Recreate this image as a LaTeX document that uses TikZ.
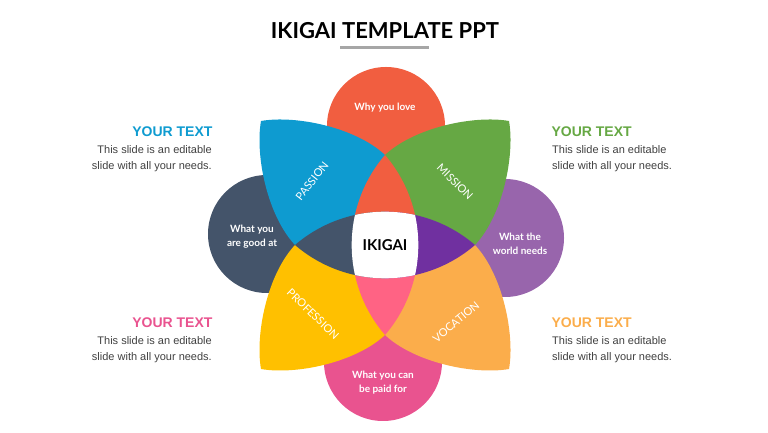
\documentclass[tikz,border=0pt]{standalone}
\usepackage{fontspec}
\setmainfont{Lato}
\newfontfamily\arialfont{Liberation Sans}

\definecolor{love}{HTML}{F15E40}
\definecolor{goodat}{HTML}{44546A}
\definecolor{world}{HTML}{9865AC}
\definecolor{worldin}{HTML}{7030A0}
\definecolor{paid}{HTML}{E9538F}
\definecolor{paidin}{HTML}{FF6384}
\definecolor{passion}{HTML}{0E9BD0}
\definecolor{mission}{HTML}{66A844}
\definecolor{profession}{HTML}{FFC000}
\definecolor{vocation}{HTML}{FBAD4B}
\definecolor{bodygray}{HTML}{404040}
\definecolor{rulegray}{HTML}{A6A6A6}

\begin{document}
\begin{tikzpicture}[x=1pt,y=1pt,
    circlelabel/.style={text=white,align=center,font=\bfseries\fontsize{10}{14}\selectfont},
    petallabel/.style={text=white,font=\fontsize{11}{13}\selectfont},
    heading/.style={font=\arialfont\bfseries\fontsize{14}{16}\selectfont},
    body/.style={text=bodygray,inner sep=0pt,font=\arialfont\fontsize{11}{16.5}\selectfont}]

    \useasboundingbox (0,0) rectangle (768,433);

    \node (title) at (385,402) {\bfseries\fontsize{22}{26}\selectfont IKIGAI TEMPLATE PPT};
    \coordinate (ruleleft) at (340,385);
    \coordinate (ruleright) at (429,385);
    \draw[rulegray,line width=3pt] (ruleleft) -- (ruleright);

    \begin{scope}[shift={(385,188)}]

        \fill[love] (1,119) circle[radius=59pt];
        \fill[goodat] (-118,11) circle[radius=59pt];
        \fill[world] (120,7) circle[radius=59pt];
        \fill[paid] (-2,-117) circle[radius=59pt];

        \foreach \sx/\sy/\col in {1/1/passion,-1/1/mission,1/-1/profession,-1/-1/vocation}
            \fill[\col,xscale=\sx,yscale=\sy] (-124,124)
                .. controls (-90,130) and (-30,118) .. (0,90) -- (0,0) -- (-90,0)
                .. controls (-118,30) and (-130,90) .. (-124,124) -- cycle;

        \begin{scope}
            \clip (-105,0) circle[radius=138.3pt];
            \clip (105,0) circle[radius=138.3pt];
            \fill[love] (-40,0) rectangle (40,95);
            \fill[paidin] (-40,0) rectangle (40,-95);
        \end{scope}

        \begin{scope}
            \clip (0,-105) circle[radius=138.3pt];
            \clip (0,105) circle[radius=138.3pt];
            \fill[goodat] (0,-40) rectangle (-95,40);
            \fill[worldin] (0,-40) rectangle (95,40);
            \clip (-105,0) circle[radius=138.3pt];
            \clip (105,0) circle[radius=138.3pt];
            \fill[white] (-40,-40) rectangle (40,40);
        \end{scope}

    \end{scope}

    \node (ikigai) at (385,188) {\bfseries\fontsize{15}{18}\selectfont IKIGAI};

    \node[circlelabel] (love) at (385,325) {Why you love};
    \node[circlelabel] (goodat) at (252,196) {What you\\are good at};
    \node[circlelabel] (world) at (520,189) {What the\\world needs};
    \node[circlelabel] (paid) at (383,50) {What you can\\be paid for};

    \node[petallabel,rotate=52] (passion) at (312,252) {PASSION};
    \node[petallabel,rotate=-45] (mission) at (455,251) {MISSION};
    \node[petallabel,rotate=-44] (profession) at (313,119) {PROFESSION};
    \node[petallabel,rotate=40] (vocation) at (456,111) {VOCATION};

    \node[heading,text=passion,anchor=east] (passionhead) at (216,301) {YOUR TEXT};
    \node[body,align=right,anchor=north east] (passionbody) at (212,288)
        {This slide is an editable\\slide with all your needs.};
    \node[heading,text=mission,anchor=west] (missionhead) at (548,301) {YOUR TEXT};
    \node[body,align=left,anchor=north west] (missionbody) at (552,288)
        {This slide is an editable\\slide with all your needs.};
    \node[heading,text=paid,anchor=east] (profhead) at (216,110) {YOUR TEXT};
    \node[body,align=right,anchor=north east] (profbody) at (212,97)
        {This slide is an editable\\slide with all your needs.};
    \node[heading,text=vocation,anchor=west] (vochead) at (548,110) {YOUR TEXT};
    \node[body,align=left,anchor=north west] (vocbody) at (552,97)
        {This slide is an editable\\slide with all your needs.};

\end{tikzpicture}
\end{document}
